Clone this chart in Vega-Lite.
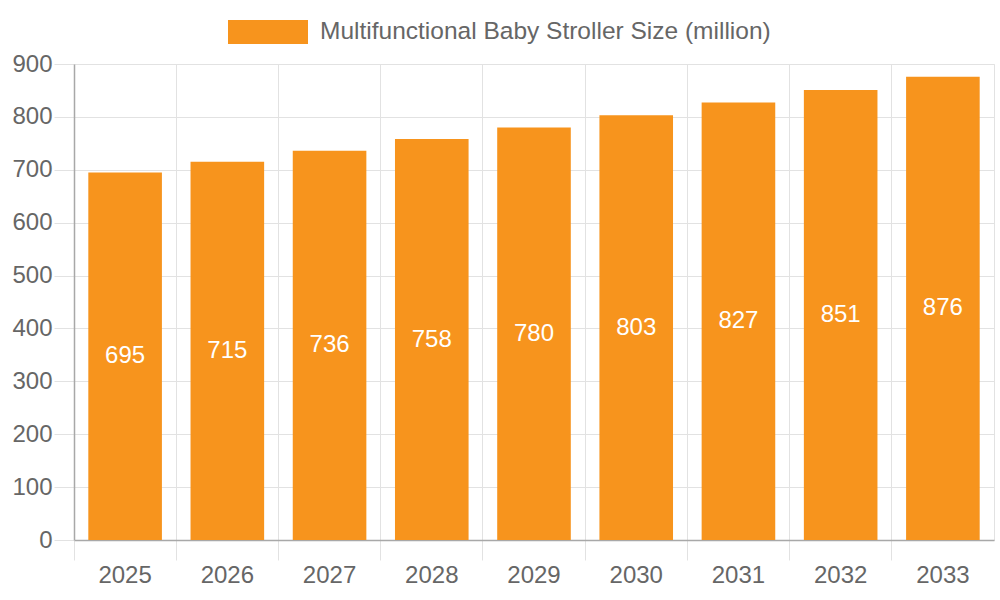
{
  "$schema": "https://vega.github.io/schema/vega-lite/v6.json",
  "width": 920,
  "height": 476,
  "autosize": {"type": "none"},
  "padding": {"left": 74, "top": 64, "right": 6, "bottom": 60},
  "background": "white",
  "config": {
    "font": "Liberation Sans",
    "view": {"stroke": "#e2e2e2", "strokeWidth": 1}
  },
  "data": {
    "values": [
      {"year": "2025", "value": 695},
      {"year": "2026", "value": 715},
      {"year": "2027", "value": 736},
      {"year": "2028", "value": 758},
      {"year": "2029", "value": 780},
      {"year": "2030", "value": 803},
      {"year": "2031", "value": 827},
      {"year": "2032", "value": 851},
      {"year": "2033", "value": 876}
    ]
  },
  "encoding": {
    "x": {
      "field": "year",
      "type": "nominal",
      "sort": null,
      "scale": {"paddingInner": 0.28, "paddingOuter": 0.14},
      "axis": {
        "title": null,
        "labelAngle": 0,
        "bandPosition": -0.19444,
        "grid": true,
        "gridColor": "#e2e2e2",
        "tickColor": "#e2e2e2",
        "tickSize": 20,
        "domainColor": "#a8a8a8",
        "domainWidth": 1.5,
        "labelColor": "#666666",
        "labelFontSize": 24,
        "labelFont": "Liberation Sans",
        "labelPadding": 3
      }
    }
  },
  "layer": [
    {
      "mark": {"type": "bar", "color": "#F7941D"},
      "encoding": {
        "y": {
          "field": "value",
          "type": "quantitative",
          "scale": {"domain": [0, 900], "nice": false},
          "axis": {
            "title": null,
            "values": [0, 100, 200, 300, 400, 500, 600, 700, 800, 900],
            "labelOverlap": false,
            "grid": true,
            "gridColor": "#e2e2e2",
            "tickColor": "#e2e2e2",
            "tickSize": 20,
            "domainColor": "#a8a8a8",
            "domainWidth": 1.5,
            "labelColor": "#666666",
            "labelFontSize": 24,
            "labelFont": "Liberation Sans",
            "labelPadding": 2
          }
        },
        "color": {
          "datum": "Multifunctional Baby Stroller Size (million)",
          "type": "nominal",
          "scale": {"range": ["#F7941D"]},
          "legend": {
            "title": null,
            "orient": "none",
            "legendX": 154,
            "legendY": -72,
            "symbolType": "M-1,-0.3H1V0.3H-1Z",
            "symbolSize": 6400,
            "symbolStrokeWidth": 0,
            "symbolOpacity": 1,
            "labelFontSize": 24.5,
            "labelLimit": 0,
            "labelColor": "#666666",
            "labelFont": "Liberation Sans",
            "labelOffset": 12
          }
        }
      }
    },
    {
      "mark": {"type": "text", "color": "white", "fontSize": 24, "baseline": "middle", "font": "Liberation Sans"},
      "encoding": {
        "y": {
          "field": "value",
          "type": "quantitative",
          "scale": {"domain": [0, 1800], "nice": false},
          "axis": null
        },
        "text": {"field": "value", "type": "quantitative"}
      }
    }
  ],
  "resolve": {"scale": {"y": "independent"}}
}
